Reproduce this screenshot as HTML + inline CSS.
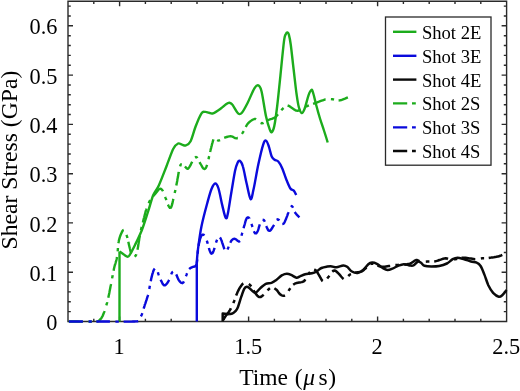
<!DOCTYPE html>
<html lang="en"><head><meta charset="utf-8"><title>Shear Stress vs Time</title>
<style>
html,body{margin:0;padding:0;background:#fff;}
body{width:520px;height:391px;overflow:hidden;position:relative;}
svg text{font-family:"Liberation Serif","DejaVu Serif",serif;}
</style></head><body>
<svg width="520" height="391" viewBox="0 0 520 391" style="position:absolute;left:0;top:0">
<rect width="520" height="391" fill="#fff"/>
<path d="M68.0 1.2H506.6V321.5H68.0ZM93.8 321.5v-2.8M93.8 1.2v2.8M119.6 321.5v-5.0M119.6 1.2v5.0M145.4 321.5v-2.8M145.4 1.2v2.8M171.2 321.5v-2.8M171.2 1.2v2.8M197.0 321.5v-2.8M197.0 1.2v2.8M222.8 321.5v-2.8M222.8 1.2v2.8M248.6 321.5v-5.0M248.6 1.2v5.0M274.4 321.5v-2.8M274.4 1.2v2.8M300.2 321.5v-2.8M300.2 1.2v2.8M326.0 321.5v-2.8M326.0 1.2v2.8M351.8 321.5v-2.8M351.8 1.2v2.8M377.6 321.5v-5.0M377.6 1.2v5.0M403.4 321.5v-2.8M403.4 1.2v2.8M429.2 321.5v-2.8M429.2 1.2v2.8M455.0 321.5v-2.8M455.0 1.2v2.8M480.8 321.5v-2.8M480.8 1.2v2.8M68.0 311.6h2.8M506.6 311.6h-2.8M68.0 301.8h2.8M506.6 301.8h-2.8M68.0 291.9h2.8M506.6 291.9h-2.8M68.0 282.1h2.8M506.6 282.1h-2.8M68.0 272.2h5.0M506.6 272.2h-5.0M68.0 262.4h2.8M506.6 262.4h-2.8M68.0 252.5h2.8M506.6 252.5h-2.8M68.0 242.7h2.8M506.6 242.7h-2.8M68.0 232.8h2.8M506.6 232.8h-2.8M68.0 222.9h5.0M506.6 222.9h-5.0M68.0 213.1h2.8M506.6 213.1h-2.8M68.0 203.2h2.8M506.6 203.2h-2.8M68.0 193.4h2.8M506.6 193.4h-2.8M68.0 183.5h2.8M506.6 183.5h-2.8M68.0 173.7h5.0M506.6 173.7h-5.0M68.0 163.8h2.8M506.6 163.8h-2.8M68.0 154.0h2.8M506.6 154.0h-2.8M68.0 144.1h2.8M506.6 144.1h-2.8M68.0 134.2h2.8M506.6 134.2h-2.8M68.0 124.4h5.0M506.6 124.4h-5.0M68.0 114.5h2.8M506.6 114.5h-2.8M68.0 104.7h2.8M506.6 104.7h-2.8M68.0 94.8h2.8M506.6 94.8h-2.8M68.0 85.0h2.8M506.6 85.0h-2.8M68.0 75.1h5.0M506.6 75.1h-5.0M68.0 65.3h2.8M506.6 65.3h-2.8M68.0 55.4h2.8M506.6 55.4h-2.8M68.0 45.5h2.8M506.6 45.5h-2.8M68.0 35.7h2.8M506.6 35.7h-2.8M68.0 25.8h5.0M506.6 25.8h-5.0M68.0 16.0h2.8M506.6 16.0h-2.8M68.0 6.1h2.8M506.6 6.1h-2.8" fill="none" stroke="#2a2a2a" stroke-width="1.4"/>
<g>
<path d="M223.4 320.0L223.9 318.9L224.5 317.9L225.2 316.7L226.0 315.6L226.7 314.6L227.5 313.6L228.4 312.5L229.2 311.3L229.9 310.2L230.6 309.0L230.9 308.3M233.4 303.1L233.8 302.0L234.3 300.8L234.6 300.0M236.1 295.6L236.6 294.4L237.1 293.2L237.6 292.0L238.2 290.8L238.8 289.7L239.3 288.6L240.0 287.5L240.7 286.5L241.4 285.5L242.1 284.5L243.0 283.6L243.3 283.4M248.8 284.1L249.8 284.8L250.7 285.7L251.2 286.4M253.5 290.4L254.2 291.5L255.0 292.6L255.7 293.6L256.5 294.6L257.3 295.6L258.2 296.5L259.3 297.1L260.5 297.1L261.6 296.4L262.7 295.6L263.7 294.7M267.5 290.4L268.5 289.4L269.5 288.6L270.0 288.2M274.4 288.2L275.4 288.9L276.4 289.7L277.3 290.7L278.1 291.8L278.8 292.9L279.6 293.8L280.6 294.7L281.7 295.3L282.8 295.7L284.1 295.8L285.0 295.4M288.5 290.9L289.2 289.8L290.0 288.8L290.4 288.3M293.2 284.8L294.3 284.0L295.4 283.4L296.7 283.0L297.9 282.8L299.1 282.6L300.3 282.4L301.7 282.1L303.0 281.7L304.1 281.1L304.9 280.1L305.3 279.4M308.1 274.6L308.8 273.6L309.6 272.6L310.1 272.0M314.1 269.6L315.3 270.0L316.3 270.9L317.0 271.9L317.7 273.0L318.4 274.2L319.1 275.3L319.8 276.5L320.4 277.6L321.0 278.7L321.6 279.8L322.4 280.9L322.7 281.1M327.2 278.5L328.0 277.5L328.8 276.5L329.4 275.7M332.3 271.7L333.3 270.8L334.6 270.5L335.8 271.0L336.7 271.8L337.7 272.7L338.6 273.6L339.5 274.5L340.4 275.6L341.1 276.5L342.0 277.5L342.9 278.5L343.6 279.0M348.3 276.1L349.2 275.1L350.2 274.4L351.0 274.1M355.0 272.7L356.2 272.4L357.6 272.2L358.9 272.1L360.1 271.9L361.4 271.6L362.5 270.9L363.5 270.2L364.4 269.4L365.4 268.5L366.3 267.7L366.5 267.5M370.5 264.0L371.7 263.6L373.0 263.7L373.5 263.8M377.5 265.4L378.6 266.0L379.8 266.4L381.0 266.7L382.3 266.8L383.6 266.8L384.8 266.7L386.1 266.5L387.4 266.3L388.8 266.1L390.2 265.9L390.2 265.9M395.4 265.1L396.8 265.0L398.1 264.9L398.9 264.8M404.3 264.4L405.6 264.4L406.9 264.3L408.2 264.1L409.4 263.9L410.5 263.4L411.6 262.8L412.7 262.1L413.7 261.4L414.8 260.6L416.0 260.1L417.2 260.0L418.4 260.6L419.3 261.2M425.8 261.7L427.0 261.6L428.2 261.5L429.4 261.5M434.2 261.4L435.4 261.2L436.8 260.9L438.1 260.5L439.4 260.0L440.7 259.6L442.0 259.1L443.2 258.7L444.5 258.4L445.7 258.2L446.9 258.5L448.0 259.0M453.9 259.3L455.2 259.2L456.5 259.1L457.2 258.9M461.6 257.8L462.8 257.7L464.1 257.7L465.6 257.8L466.9 258.0L468.2 258.2L469.6 258.4L471.0 258.6L472.3 258.8L473.6 259.0L475.0 259.2L475.3 259.2M480.9 258.6L482.1 258.3L483.4 258.2L484.1 258.2M488.7 257.9L490.0 257.7L491.2 257.6L492.5 257.4L493.8 257.3L495.2 257.1L496.5 256.8L497.8 256.6L499.0 256.2L500.3 255.8L501.4 255.3L502.3 254.9" fill="none" stroke="#0a0a0a" stroke-width="2.5" stroke-linejoin="round" stroke-linecap="butt"/>
<path d="M222.7 321.5L222.7 313.4L229.0 314.3" fill="none" stroke="#0a0a0a" stroke-width="2.5" stroke-linejoin="round" stroke-linecap="butt"/>
<path d="M229.0 314.3C229.6 314.1 231.5 313.9 232.6 313.4C233.7 312.9 234.5 312.2 235.4 311.2C236.3 310.2 236.9 309.6 237.9 307.2C238.9 304.8 240.2 299.8 241.3 296.7C242.4 293.6 243.3 290.4 244.2 288.8C245.1 287.2 245.9 286.9 246.8 286.8C247.7 286.7 248.4 287.4 249.5 288.2C250.6 289.0 252.2 291.1 253.3 291.8C254.4 292.5 254.7 293.2 256.0 292.5C257.3 291.8 259.4 288.9 261.0 287.5C262.6 286.1 264.1 284.6 265.8 283.8C267.6 283.0 269.8 283.5 271.5 282.9C273.2 282.3 274.5 281.3 276.3 280.0C278.1 278.7 280.3 276.2 282.1 275.2C283.9 274.1 285.3 273.7 286.9 273.7C288.5 273.7 290.1 274.5 291.7 275.2C293.3 275.9 295.1 277.5 296.5 277.7C297.9 277.9 298.9 276.8 300.4 276.2C301.8 275.6 303.3 274.7 305.2 274.2C307.1 273.7 310.0 273.8 311.9 273.3C313.8 272.8 315.1 272.2 316.7 271.3C318.3 270.4 319.7 268.8 321.5 268.0C323.3 267.2 325.6 266.9 327.3 266.6C329.1 266.3 330.5 266.3 332.0 266.4C333.5 266.5 334.6 267.5 336.5 267.3C338.4 267.1 341.5 265.5 343.3 265.4C345.1 265.3 345.7 265.7 347.1 266.7C348.5 267.7 350.1 270.5 351.9 271.5C353.7 272.5 355.8 273.2 357.7 272.9C359.6 272.6 361.7 271.1 363.5 269.6C365.3 268.2 366.9 265.4 368.3 264.2C369.7 263.0 370.7 262.6 372.1 262.5C373.5 262.4 375.1 262.9 376.9 263.8C378.7 264.7 380.9 267.0 382.7 268.0C384.5 269.0 385.9 269.9 387.5 270.0C389.1 270.1 390.6 269.4 392.3 268.7C394.1 268.0 396.1 266.6 398.0 265.8C399.9 265.1 401.9 264.3 403.8 264.2C405.7 264.1 408.0 265.2 409.6 265.4C411.2 265.6 412.1 266.0 413.5 265.4C414.9 264.8 416.8 261.9 418.0 261.5C419.2 261.1 419.9 262.1 421.0 262.8C422.1 263.5 422.8 265.2 424.5 265.8C426.2 266.4 429.1 266.5 431.5 266.5C433.9 266.5 436.6 266.5 439.2 266.0C441.8 265.5 444.6 264.6 446.9 263.5C449.1 262.4 450.9 260.2 452.7 259.2C454.5 258.2 455.6 257.7 457.5 257.7C459.4 257.7 461.9 258.6 464.2 259.2C466.4 259.8 468.9 260.9 471.0 261.5C473.1 262.1 475.1 261.9 476.7 262.7C478.3 263.4 479.3 264.0 480.6 266.0C481.9 268.0 483.1 271.4 484.4 274.6C485.7 277.8 486.9 282.1 488.3 285.2C489.8 288.2 491.4 291.0 493.1 292.9C494.9 294.8 497.2 296.4 498.8 296.7C500.4 297.0 501.4 295.9 502.7 294.8C504.0 293.7 505.9 290.8 506.5 290.0" fill="none" stroke="#0a0a0a" stroke-width="2.5" stroke-linejoin="round" stroke-linecap="butt"/>
<path d="M68.8 321.5L70.1 321.5L71.8 321.5L73.1 321.5L74.6 321.5L76.1 321.5L77.7 321.5L79.4 321.6L81.1 321.6L82.8 321.6M88.5 321.6L90.2 321.6L91.6 321.6L91.9 321.6M96.7 321.5L98.0 321.4L98.9 320.6L99.8 319.8L100.7 318.9L101.5 317.9L102.1 316.8L102.7 315.8L103.2 314.5L103.7 313.3L104.2 312.1L104.5 311.0M106.3 305.4L106.7 304.2L107.1 302.7L107.2 302.1M108.3 297.7L108.7 295.8L109.0 294.4L109.3 293.0L109.6 291.4L109.9 289.8L110.2 288.2L110.5 286.6L110.9 284.9L111.0 284.0M112.1 278.4L112.4 276.8L112.7 275.3L112.7 275.2M113.6 270.7L113.9 269.1L114.2 267.7L114.5 266.5L114.9 265.0L115.3 263.8L115.7 262.5L116.0 261.3L116.4 260.1L116.7 258.8L116.9 257.6L117.0 257.1M117.7 251.4L117.8 250.2L117.9 248.6L117.9 248.0M118.4 243.2L118.7 241.8L118.9 240.5L119.2 239.3L119.6 237.9L120.0 236.7L120.4 235.5L120.9 234.3L121.4 233.2L121.9 232.1L122.5 230.9L123.2 230.0L123.7 229.8M126.5 234.8L126.9 236.2L127.3 237.4L127.4 237.9M128.3 241.8L128.6 243.0L128.9 244.4L129.2 245.7L129.5 247.0L129.8 248.3L130.1 249.4L130.4 250.8L130.8 252.0L131.2 253.2L131.4 253.6M134.6 256.7L135.6 255.8L136.2 254.6L136.3 254.2M137.5 249.7L137.8 248.1L138.1 246.6L138.3 245.0L138.6 243.4L138.8 241.8L139.1 240.2L139.3 238.6L139.6 237.0L139.8 235.8M140.9 230.2L141.2 228.9L141.5 227.6L141.7 227.0M142.9 222.4L143.2 221.1L143.5 219.9L143.8 218.6L144.2 217.3L144.5 216.0L144.8 214.7L145.2 213.4L145.5 212.1L145.8 210.9L146.2 209.8L146.6 208.6M148.7 203.2L149.2 202.1L149.8 200.8L150.2 200.1M153.1 196.3L154.0 195.3L154.9 194.3L155.7 193.3L156.5 192.3L157.3 191.2L158.1 190.2L159.0 189.2L160.0 188.7L161.2 189.0L162.1 189.9L162.8 190.9L163.0 191.3M165.2 196.9L165.6 198.1L166.1 199.3L166.4 200.1M167.9 204.6L168.5 205.8L169.1 206.9L169.8 207.9L170.9 207.6L171.5 206.4L171.9 205.1L172.3 203.7L172.6 202.4L172.9 201.1L173.2 199.6L173.4 198.9M174.7 193.1L175.0 191.8L175.3 190.4L175.4 189.9M176.3 185.4L176.6 183.9L176.9 182.5L177.2 181.0L177.4 179.5L177.7 178.1L178.0 176.6L178.2 175.2L178.4 173.9L178.7 172.6L178.8 171.8M180.1 166.3L180.5 165.1L181.2 164.2L181.8 164.1M184.9 166.5L185.8 167.4L186.7 168.3L187.8 168.8L188.8 167.9L189.5 166.9L190.1 165.8L190.8 164.6L191.3 163.4L191.9 162.4L192.2 161.7M195.0 157.6L196.0 157.0L197.1 157.6L197.4 158.1M199.5 162.1L200.2 163.3L200.9 164.5L201.5 165.5L202.1 166.6L202.7 167.7L203.6 168.7L204.8 169.0L205.7 168.1L206.3 167.0L206.8 165.6L207.1 164.8M208.5 159.3L208.8 158.1L209.0 156.9L209.2 156.2M210.1 152.0L210.4 150.8L210.7 149.4L211.1 148.1L211.4 146.7L211.8 145.3L212.1 143.9L212.5 142.6L212.8 141.5L213.2 140.2L213.5 139.3M217.2 139.9L218.2 140.6L219.5 140.4L220.1 140.2M224.2 137.9L225.4 137.4L226.7 137.0L228.0 136.6L229.2 136.4L230.5 136.3L231.7 136.4L232.9 136.8L234.0 137.5L235.2 138.1L236.5 138.4L237.7 138.0L237.8 138.0M241.9 133.9L242.6 132.9L243.4 131.7L243.8 131.1M245.8 127.0L246.4 125.8L247.0 124.7L247.8 123.6L248.8 122.6L249.8 121.7L250.9 120.9L252.0 120.1L253.2 119.5L254.4 119.0L255.6 119.0L256.1 119.3M260.6 122.8L261.8 123.3L263.0 123.1L263.5 122.8M267.0 120.4L268.1 119.9L269.3 119.6L270.6 119.2L271.8 118.9L273.0 118.4L274.3 117.9L275.3 117.2L276.3 116.3L277.2 115.3L277.9 114.3M281.3 110.3L282.1 109.4L283.0 108.5L283.6 108.0M287.6 105.5L288.8 105.9L289.9 106.5L290.9 107.3L292.0 108.0L293.1 108.7L294.1 109.4L295.1 110.1L296.2 110.6L297.5 110.8L298.7 110.6L299.8 110.1L300.7 109.7M305.9 106.8L307.0 106.2L308.2 105.7L308.9 105.4M313.1 103.9L314.2 103.5L315.4 103.0L316.6 102.6L317.8 102.1L319.0 101.7L320.3 101.2L321.6 100.7L322.8 100.3L324.0 99.9L325.3 99.5L325.6 99.5M330.9 99.1L332.2 99.2L333.5 99.4L334.1 99.5M338.6 100.5L339.8 100.4L341.2 100.0L342.4 99.6L343.7 99.1L345.0 98.6L346.1 98.1L347.2 97.6L347.9 97.3" fill="none" stroke="#1cac1c" stroke-width="2.4" stroke-linejoin="round" stroke-linecap="butt"/>
<path d="M119.5 321.5L119.5 251.6" fill="none" stroke="#1cac1c" stroke-width="2.4" stroke-linejoin="round" stroke-linecap="butt"/>
<path d="M119.5 251.6C120.2 252.1 122.1 253.4 123.5 254.3C124.9 255.2 126.6 256.8 127.7 256.8C128.8 256.8 128.8 256.5 130.0 254.5C131.2 252.5 133.0 249.1 135.0 245.0C137.0 240.9 139.7 235.6 141.9 230.0C144.1 224.4 146.2 217.3 148.1 211.5C150.0 205.7 151.5 199.3 153.3 195.0C155.1 190.7 156.6 190.2 158.8 185.4C161.0 180.6 164.1 172.3 166.5 166.2C168.9 160.1 171.4 152.6 173.3 148.8C175.2 145.0 176.7 144.2 178.1 143.5C179.5 142.8 180.7 144.3 182.0 144.6C183.3 144.9 184.4 146.0 185.8 145.4C187.2 144.8 189.0 144.3 190.6 141.2C192.2 138.0 193.8 131.2 195.6 126.5C197.4 121.8 199.9 115.7 201.5 113.3C203.1 110.9 204.2 112.0 205.4 111.9C206.7 111.8 207.7 112.6 209.0 112.8C210.3 113.0 211.1 114.0 213.1 113.3C215.1 112.6 218.7 110.0 220.8 108.5C223.0 107.0 224.6 105.2 226.0 104.2C227.4 103.2 228.3 102.6 229.4 102.7C230.5 102.8 230.9 102.8 232.3 104.6C233.8 106.4 236.5 111.9 238.1 113.3C239.7 114.7 240.3 114.5 241.9 112.7C243.5 110.9 245.6 106.8 247.7 102.7C249.8 98.6 252.6 91.2 254.4 88.3C256.2 85.4 257.1 84.9 258.3 85.4C259.5 85.9 260.2 86.1 261.5 91.2C262.8 96.3 264.6 109.8 266.0 116.2C267.4 122.6 268.8 127.0 269.8 129.6C270.8 132.2 271.1 132.6 271.9 132.0C272.6 131.4 273.4 130.3 274.3 126.0C275.2 121.7 276.2 114.4 277.2 106.0C278.2 97.6 279.3 86.6 280.4 75.8C281.5 65.0 283.1 48.2 284.0 41.2C284.9 34.2 285.4 35.2 286.0 33.8C286.6 32.3 286.8 32.4 287.3 32.5C287.8 32.6 288.2 32.3 288.8 34.4C289.4 36.5 290.0 39.1 290.8 45.0C291.6 50.9 292.7 61.7 293.7 70.0C294.7 78.3 295.8 88.8 296.7 95.0C297.6 101.2 298.0 104.0 298.8 107.0C299.6 110.0 300.7 112.7 301.7 113.0C302.7 113.3 303.5 111.7 304.6 108.8C305.7 105.9 307.4 98.6 308.5 95.4C309.6 92.2 310.7 90.1 311.5 89.8C312.3 89.5 312.5 91.0 313.3 93.5C314.1 96.0 315.1 100.8 316.2 105.0C317.3 109.2 318.7 114.3 320.0 118.5C321.3 122.7 322.5 126.0 323.8 130.0C325.1 134.0 327.1 140.4 327.7 142.5" fill="none" stroke="#1cac1c" stroke-width="2.4" stroke-linejoin="round" stroke-linecap="butt"/>
<path d="M68.9 321.5L70.2 321.5L71.9 321.5L73.2 321.5L74.6 321.5L76.2 321.5L77.7 321.5L79.4 321.5L81.1 321.5L82.9 321.5M88.6 321.5L90.2 321.5L91.8 321.5M96.3 321.5L98.3 321.5L100.0 321.5L101.7 321.5L103.5 321.5L105.3 321.5L107.2 321.5L109.1 321.5L109.9 321.5M115.4 321.6L117.0 321.6L118.8 321.6M123.6 321.6L125.5 321.6L127.2 321.6L128.8 321.6L130.3 321.6L131.6 321.6L132.9 321.5L134.5 321.5L135.8 321.4L137.0 321.4L138.2 321.2M140.9 316.4L141.5 315.2L142.0 314.0L142.3 313.2M143.6 308.6L144.1 307.3L144.5 306.0L144.8 304.8L145.3 303.6L145.7 302.3L146.1 301.0L146.6 299.7L147.0 298.3L147.4 297.0L147.8 295.8L148.1 294.8M149.3 289.0L149.5 287.8L149.7 286.6L149.9 285.7M150.7 281.3L151.0 280.1L151.2 278.8L151.5 277.6L151.8 276.4L152.1 275.2L152.4 274.0L152.8 272.8L153.2 271.5L153.6 270.4L154.2 269.3L154.8 268.6M157.9 272.2L158.2 273.4L158.6 274.6L158.9 275.4M160.6 279.8L161.2 280.9L161.8 282.0L162.3 283.1L163.0 284.3L163.8 285.2L165.1 285.2L166.1 284.5L167.0 283.5L167.7 282.4L168.4 281.3L169.0 280.1L169.1 279.9M171.2 274.4L171.7 273.2L172.4 272.1L173.0 271.8M176.2 274.4L176.8 275.6L177.2 276.8L177.7 277.9L178.2 279.1L178.8 280.1L179.5 281.2L180.4 282.1L181.3 282.9L182.5 283.2L183.4 282.4L183.9 281.4M185.9 276.3L186.4 275.1L186.8 273.9L187.1 273.2M189.2 269.1L190.1 268.2L191.2 267.6L192.4 267.1L193.6 266.7L194.8 266.5L195.8 265.7L196.4 264.7L196.7 263.5L196.9 262.2L197.1 261.0L197.2 259.7L197.2 259.4M197.7 253.6L197.8 252.3L197.9 251.0L198.0 250.3M198.6 245.7L198.8 244.5L199.1 243.0L199.4 241.7L199.7 240.4L200.0 239.2L200.4 238.0L200.9 236.8L201.4 235.7L202.2 234.8L203.5 234.6L204.4 235.5M206.8 240.7L207.2 242.0L207.6 243.2L207.7 243.8M208.9 248.0L209.2 249.2L209.6 250.4L210.1 251.5L210.6 252.7L211.4 253.7L212.5 253.2L213.1 252.1L213.6 250.9L214.0 249.7L214.4 248.5L214.6 247.9M216.0 242.7L216.4 241.5L216.8 240.4L217.1 239.8M219.9 237.6L220.7 238.6L221.2 239.8L221.7 240.9L222.1 242.3L222.5 243.5L222.9 244.7L223.3 245.9L223.7 247.1L224.1 248.4L224.5 249.2M227.5 249.4L228.0 248.3L228.5 247.1L228.7 246.6M230.3 242.7L230.9 241.5L231.6 240.4L232.5 239.5L233.6 238.9L234.8 238.8L236.0 239.3L237.0 240.2L238.0 241.0L239.1 241.6L240.1 240.9M241.5 235.8L241.8 234.5L242.2 233.2L242.4 232.7M243.6 228.2L243.9 226.9L244.3 225.5L244.7 224.3L245.0 223.2L245.3 221.9L245.7 220.7L246.1 219.5L246.6 218.4L247.4 217.5L248.6 217.4L249.4 218.4L249.4 218.5M251.5 223.9L251.9 225.2L252.3 226.4L252.5 227.0M253.9 231.2L254.4 232.4L255.1 233.4L256.3 233.4L257.0 232.4L257.6 231.3L258.1 230.2L258.5 228.9L258.8 227.7L259.2 226.3L259.6 225.0L259.8 224.4M262.6 219.8L263.8 220.0L264.5 221.0L264.8 221.7M266.3 226.0L266.7 227.2L267.3 228.4L267.8 229.5L268.5 230.6L269.8 230.9L270.8 230.0L271.5 229.0L272.2 228.0L272.8 226.9L273.5 225.8L274.1 224.9M276.6 219.8L277.7 219.3L278.8 219.8L279.3 220.4M282.3 224.0L283.5 223.9L284.2 222.9L284.8 221.7L285.3 220.6L285.9 219.3L286.3 218.2L286.8 216.9L287.3 215.6L287.7 214.3L288.2 213.1L288.5 212.2M291.0 207.0L291.8 206.1L292.7 207.0L293.0 207.7M294.7 212.0L295.4 213.0L296.2 213.9L297.0 214.9L297.9 215.8L298.7 216.7L299.4 217.4" fill="none" stroke="#0a0adc" stroke-width="2.4" stroke-linejoin="round" stroke-linecap="butt"/>
<path d="M196.8 321.5L196.8 262.0" fill="none" stroke="#0a0adc" stroke-width="2.4" stroke-linejoin="round" stroke-linecap="butt"/>
<path d="M196.8 262.0C197.0 259.9 197.2 255.2 198.0 249.2C198.8 243.2 199.9 233.9 201.5 226.2C203.1 218.5 205.6 209.2 207.3 203.0C209.0 196.8 210.2 192.2 211.5 189.0C212.8 185.8 214.0 183.6 215.2 183.5C216.4 183.4 217.3 184.8 218.5 188.5C219.7 192.2 221.1 200.5 222.3 205.4C223.5 210.3 224.8 216.8 225.8 218.0C226.8 219.2 227.2 216.7 228.1 212.3C229.0 207.9 230.3 198.4 231.5 191.5C232.7 184.6 234.0 175.8 235.0 171.0C236.0 166.2 236.7 164.7 237.5 163.0C238.3 161.3 238.9 160.2 239.8 160.8C240.7 161.4 241.8 162.7 242.9 166.5C244.1 170.3 245.4 178.4 246.7 183.8C248.0 189.2 249.5 198.0 250.6 199.0C251.7 200.0 252.2 195.3 253.5 189.6C254.8 183.9 256.7 172.1 258.3 164.6C259.9 157.1 261.8 148.8 263.1 144.8C264.4 140.8 265.1 140.3 266.0 140.6C266.9 140.8 267.9 143.7 268.8 146.3C269.8 149.0 270.7 154.2 271.7 156.5C272.7 158.8 273.5 158.9 274.6 159.8C275.7 160.7 277.2 160.2 278.5 161.7C279.8 163.1 281.0 165.4 282.3 168.5C283.6 171.6 285.1 176.7 286.5 180.0C287.9 183.3 289.2 186.7 290.4 188.5C291.6 190.3 292.8 189.5 293.8 190.6C294.8 191.7 295.8 194.3 296.2 195.0" fill="none" stroke="#0a0adc" stroke-width="2.4" stroke-linejoin="round" stroke-linecap="butt"/>
</g>
<rect x="385.5" y="17.0" width="105.5" height="148.2" fill="#fff" stroke="#2a2a2a" stroke-width="1.3"/>
<path d="M393 31.8H416.4" stroke="#1cac1c" stroke-width="2.4" fill="none"/>
<text x="421.9" y="38.8" font-size="18.6" fill="#000">Shot 2E</text>
<path d="M393 55.8H416.4" stroke="#0a0adc" stroke-width="2.4" fill="none"/>
<text x="421.9" y="62.8" font-size="18.6" fill="#000">Shot 3E</text>
<path d="M393 79.6H416.4" stroke="#0a0a0a" stroke-width="2.4" fill="none"/>
<text x="421.9" y="86.6" font-size="18.6" fill="#000">Shot 4E</text>
<path d="M393 103.4H407.2M412 103.4H415.8" stroke="#1cac1c" stroke-width="2.4" fill="none"/>
<text x="421.9" y="110.4" font-size="18.6" fill="#000">Shot 2S</text>
<path d="M393 127.4H407.2M412 127.4H415.8" stroke="#0a0adc" stroke-width="2.4" fill="none"/>
<text x="421.9" y="134.4" font-size="18.6" fill="#000">Shot 3S</text>
<path d="M393 151.0H407.2M412 151.0H415.8" stroke="#0a0a0a" stroke-width="2.4" fill="none"/>
<text x="421.9" y="158.0" font-size="18.6" fill="#000">Shot 4S</text>
<text transform="translate(57.4 330.1) scale(0.955 1)" font-size="23.4" text-anchor="end" fill="#000">0</text>
<text transform="translate(57.4 280.8) scale(0.955 1)" font-size="23.4" text-anchor="end" fill="#000">0.1</text>
<text transform="translate(57.4 231.5) scale(0.955 1)" font-size="23.4" text-anchor="end" fill="#000">0.2</text>
<text transform="translate(57.4 182.3) scale(0.955 1)" font-size="23.4" text-anchor="end" fill="#000">0.3</text>
<text transform="translate(57.4 133.0) scale(0.955 1)" font-size="23.4" text-anchor="end" fill="#000">0.4</text>
<text transform="translate(57.4 83.7) scale(0.955 1)" font-size="23.4" text-anchor="end" fill="#000">0.5</text>
<text transform="translate(57.4 34.4) scale(0.955 1)" font-size="23.4" text-anchor="end" fill="#000">0.6</text>
<text transform="translate(119.2 353.9) scale(0.955 1)" font-size="23.4" text-anchor="middle" fill="#000">1</text>
<text transform="translate(248.2 353.9) scale(0.955 1)" font-size="23.4" text-anchor="middle" fill="#000">1.5</text>
<text transform="translate(377.2 353.9) scale(0.955 1)" font-size="23.4" text-anchor="middle" fill="#000">2</text>
<text transform="translate(506.2 353.9) scale(0.955 1)" font-size="23.4" text-anchor="middle" fill="#000">2.5</text>
<text x="239.2" y="384.9" font-size="23.5" fill="#000">Time <tspan x="294.8">(</tspan><tspan font-style="italic" x="303.2">μ</tspan><tspan x="318.6">s</tspan><tspan x="328.2">)</tspan></text>
<text transform="translate(17.3 249.5) rotate(-90)" font-size="23.7" fill="#000">Shear Stress (GPa)</text>
</svg>
</body></html>
